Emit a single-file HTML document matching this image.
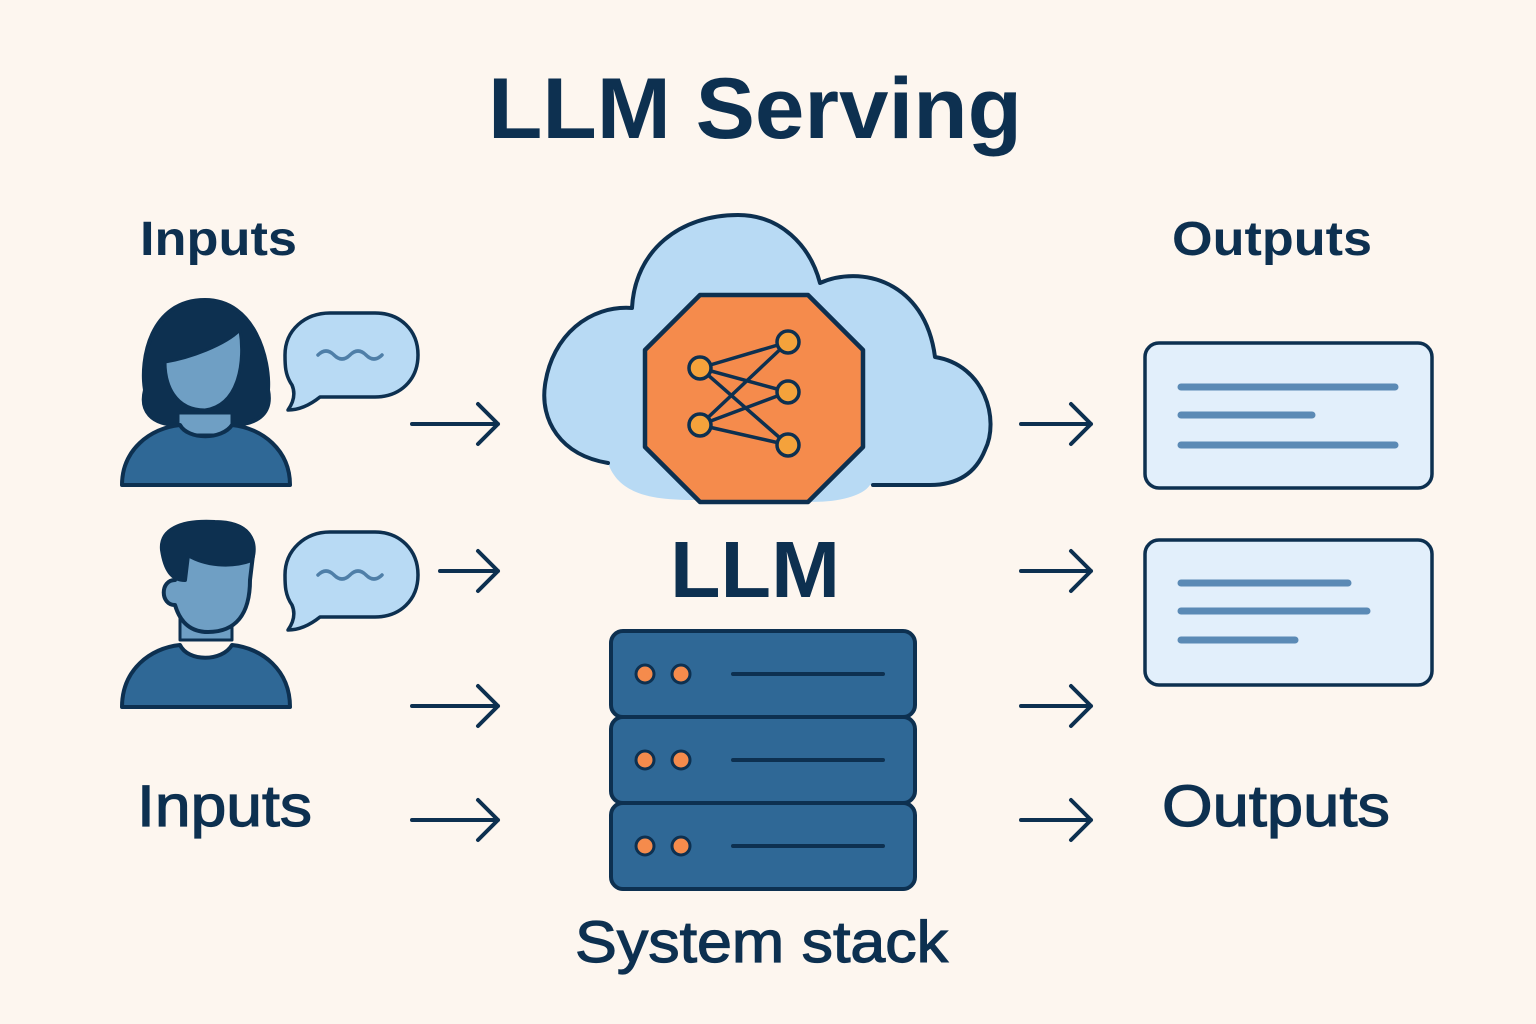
<!DOCTYPE html>
<html><head><meta charset="utf-8"><style>
html,body{margin:0;padding:0;background:#fdf6ef;}
svg{display:block}
text{font-family:"Liberation Sans",sans-serif;fill:#0d3050}
</style></head><body>
<svg width="1536" height="1024" viewBox="0 0 1536 1024" xmlns="http://www.w3.org/2000/svg">
<rect width="1536" height="1024" fill="#fdf6ef"/>
<text x="488" y="138" font-size="86" font-weight="bold" textLength="534" lengthAdjust="spacingAndGlyphs">LLM Serving</text>
<text x="140" y="255" font-size="48" font-weight="bold" textLength="157" lengthAdjust="spacingAndGlyphs">Inputs</text>
<text x="1172" y="255" font-size="48" font-weight="bold" textLength="200" lengthAdjust="spacingAndGlyphs">Outputs</text>
<text x="670" y="597" font-size="80" font-weight="bold" textLength="170" lengthAdjust="spacingAndGlyphs">LLM</text>
<g stroke="#0d3050" stroke-width="1.2">
<text x="137" y="826" font-size="58" textLength="175" lengthAdjust="spacingAndGlyphs">Inputs</text>
<text x="1162" y="826" font-size="58" textLength="228" lengthAdjust="spacingAndGlyphs">Outputs</text>
<text x="575" y="962" font-size="58" textLength="373" lengthAdjust="spacingAndGlyphs">System stack</text>
</g>

<g stroke="#0d3050" stroke-width="4" stroke-linecap="round" stroke-linejoin="round" fill="none">
<!-- woman -->
<path d="M205 300 C150 300 140 360 145 390 C140 410 150 425 180 425 L230 425 C262 425 272 410 268 390 C270 360 255 300 205 300Z" fill="#0d3050"/>
<path d="M178 413 L178 435 L232 435 L232 413Z" fill="#6f9fc4" stroke-width="3"/>
<path d="M122 485 C122 450 150 428 180 425 C188 440 222 440 232 425 C262 428 290 450 290 485Z" fill="#2f6896"/>
<path d="M165 362 C190 358 225 345 240 330 C245 360 240 405 205 410 C175 410 165 385 165 362Z" fill="#6f9fc4" stroke-width="3"/>
<!-- man -->
<path d="M180 610 L180 640 L232 640 L232 610Z" fill="#6f9fc4" stroke-width="3"/>
<path d="M122 707 C122 670 150 648 180 645 C188 662 222 662 232 645 C262 648 290 670 290 707Z" fill="#2f6896"/>
<path d="M175 560 C170 540 180 525 215 523 C245 522 255 535 253 555 L250 580 C250 615 235 632 208 632 C185 632 178 615 175 605 C160 605 160 580 175 580Z" fill="#6f9fc4"/>
<path d="M162 550 C160 530 180 520 215 522 C248 522 258 540 252 560 C230 568 205 565 188 555 L185 580 C172 580 165 570 162 550Z" fill="#0d3050"/>
<!-- bubbles -->
<path d="M330 313 L375 313 C400 313 418 330 418 355 C418 380 400 397 375 397 L320 397 C310 405 300 410 288 410 C295 400 295 392 292 385 C285 375 285 365 285 355 C285 330 305 313 330 313Z" fill="#b8daf4" stroke-width="3.5"/>
<path d="M318 355 q8 -8 16 0 q8 8 16 0 q8 -8 16 0 q8 8 16 0" stroke="#4f7fa8" stroke-width="3.5"/>
<path d="M330 532 L375 532 C400 532 418 550 418 575 C418 600 400 617 375 617 L320 617 C310 625 300 630 288 630 C295 620 295 612 292 605 C285 595 285 585 285 575 C285 550 305 532 330 532Z" fill="#b8daf4" stroke-width="3.5"/>
<path d="M318 575 q8 -8 16 0 q8 8 16 0 q8 -8 16 0 q8 8 16 0" stroke="#4f7fa8" stroke-width="3.5"/>
<!-- cloud -->
<path d="M608 463 C560 455 540 420 545 385 C552 335 590 305 632 308 C635 250 680 215 738 215 C780 215 810 245 820 283 C860 265 925 280 935 357 C985 365 1000 420 985 450 C975 475 955 485 930 485 L870 485 C860 500 820 505 790 500 L700 500 C660 500 620 498 608 463Z" fill="#b8daf4" stroke="none"/>
<path d="M608 463 C560 455 540 420 545 385 C552 335 590 305 632 308 C635 250 680 215 738 215 C780 215 810 245 820 283 C860 265 925 280 935 357 C985 365 1000 420 985 450 C975 475 955 485 930 485 L873 485"/>
<path d="M700 295 L808 295 L863 350 L863 447 L808 502 L700 502 L645 447 L645 350Z" fill="#f58b4c" stroke-width="4.5"/>
<g stroke-width="3.5">
<path d="M700 368 L788 342 M700 368 L788 392 M700 368 L788 445 M700 425 L788 342 M700 425 L788 392 M700 425 L788 445"/>
<circle cx="700" cy="368" r="11" fill="#f5a23b"/><circle cx="700" cy="425" r="11" fill="#f5a23b"/>
<circle cx="788" cy="342" r="11" fill="#f5a23b"/><circle cx="788" cy="392" r="11" fill="#f5a23b"/><circle cx="788" cy="445" r="11" fill="#f5a23b"/>
</g>
<!-- server -->
<g stroke-width="4">
<rect x="611" y="631" width="304" height="86" rx="12" fill="#2f6896"/>
<rect x="611" y="717" width="304" height="86" rx="12" fill="#2f6896"/>
<rect x="611" y="803" width="304" height="86" rx="12" fill="#2f6896"/>
</g>
<g stroke-width="3" fill="#f58b4c">
<circle cx="645" cy="674" r="9"/><circle cx="681" cy="674" r="9"/>
<circle cx="645" cy="760" r="9"/><circle cx="681" cy="760" r="9"/>
<circle cx="645" cy="846" r="9"/><circle cx="681" cy="846" r="9"/>
</g>
<path d="M733 674 L883 674 M733 760 L883 760 M733 846 L883 846" stroke-width="4"/>
<!-- arrows -->
<g stroke-width="4">
<path d="M412 424 L498 424 M478 404 L498 424 L478 444"/>
<path d="M440 571 L498 571 M478 551 L498 571 L478 591"/>
<path d="M412 706 L498 706 M478 686 L498 706 L478 726"/>
<path d="M412 820 L498 820 M478 800 L498 820 L478 840"/>
<path d="M1021 424 L1091 424 M1071 404 L1091 424 L1071 444"/>
<path d="M1021 571 L1091 571 M1071 551 L1091 571 L1071 591"/>
<path d="M1021 706 L1091 706 M1071 686 L1091 706 L1071 726"/>
<path d="M1021 820 L1091 820 M1071 800 L1091 820 L1071 840"/>
</g>
<!-- cards -->
<rect x="1145" y="343" width="287" height="145" rx="14" fill="#e2effb" stroke-width="3.5"/>
<rect x="1145" y="540" width="287" height="145" rx="14" fill="#e2effb" stroke-width="3.5"/>
<g stroke="#5b8ab5" stroke-width="7">
<path d="M1181 387 L1395 387 M1181 415 L1312 415 M1181 445 L1395 445"/>
<path d="M1181 583 L1348 583 M1181 611 L1367 611 M1181 640 L1295 640"/>
</g>
</g>
</svg>
</body></html>
